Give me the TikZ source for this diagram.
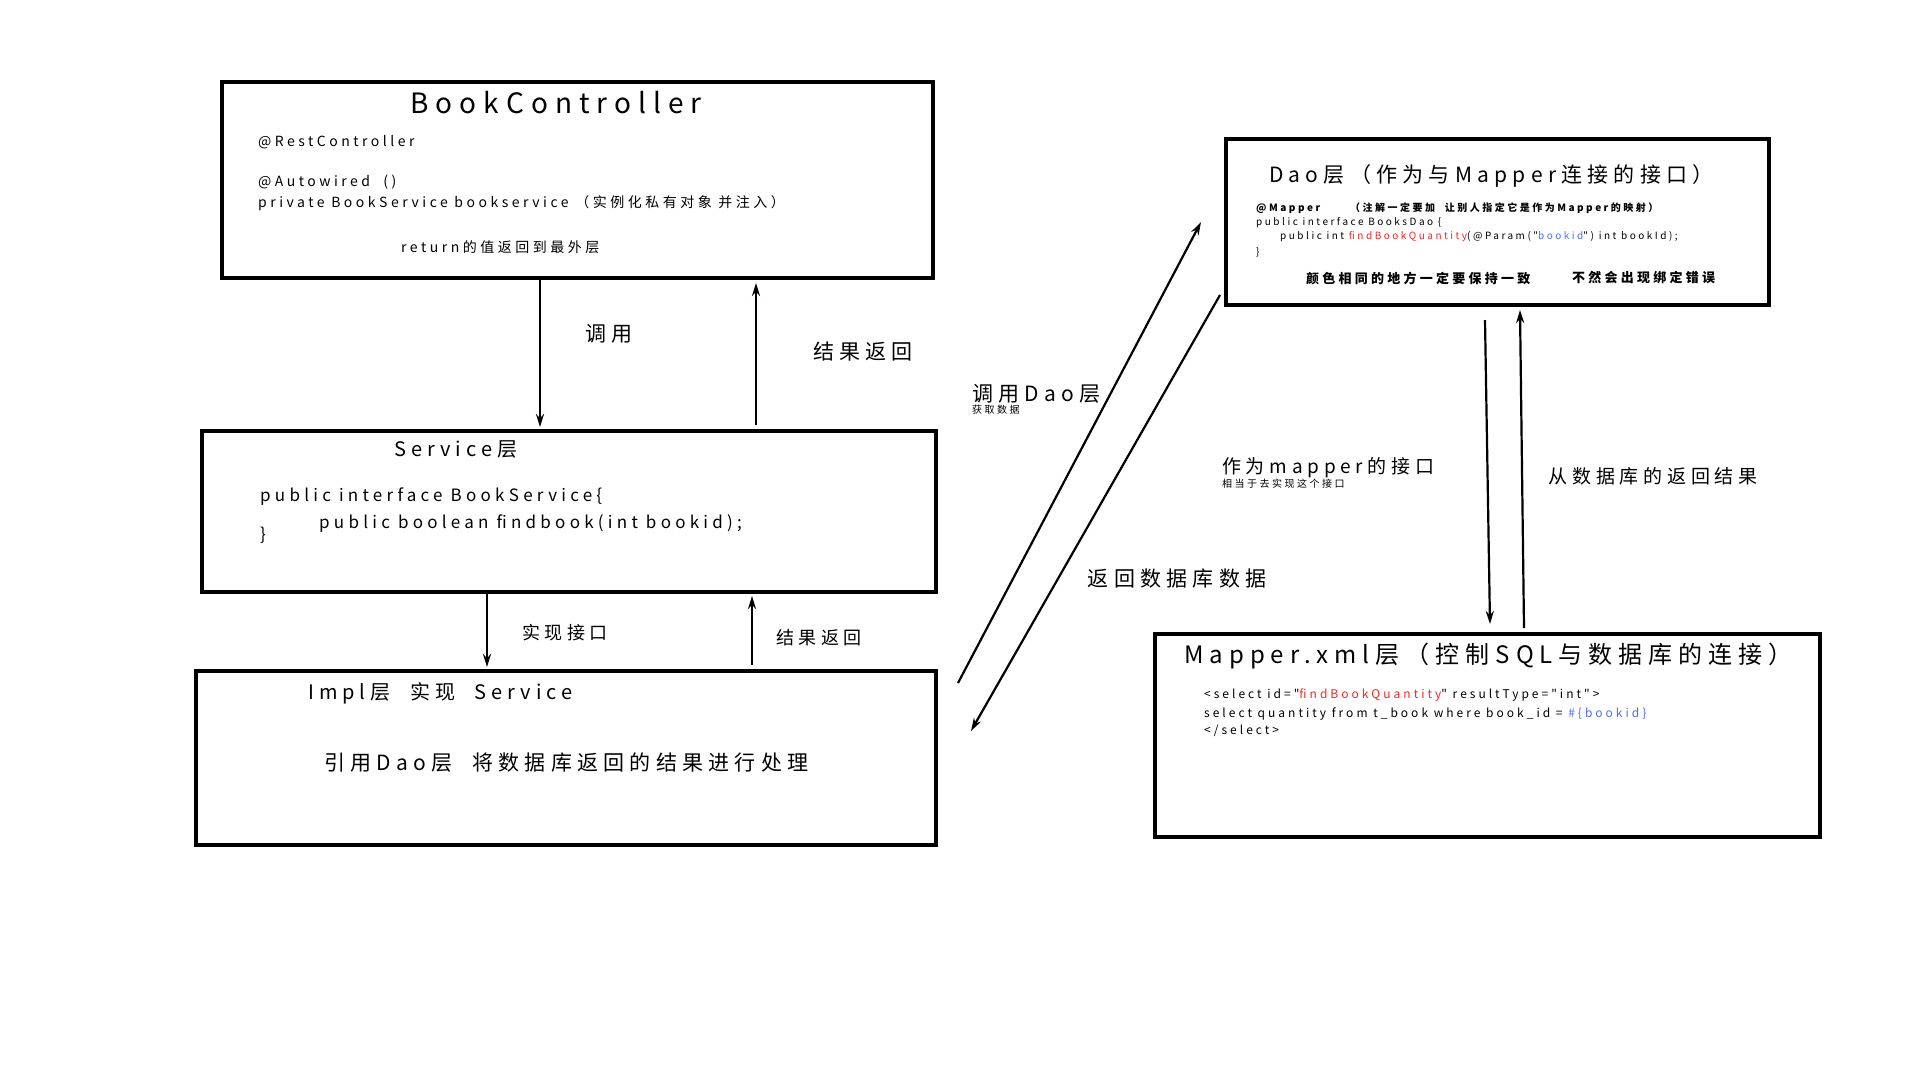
\documentclass[tikz,border=0pt]{standalone}
\usepackage{fontspec}
\setmainfont{Noto Sans CJK SC}
\newfontfamily\spfam[LetterSpace=25]{Noto Sans CJK SC}
\usetikzlibrary{arrows.meta}
\definecolor{cred}{RGB}{235,40,40}
\definecolor{cblue}{RGB}{80,110,240}
\begin{document}
\begin{tikzpicture}[x=1pt,y=-1pt,
  box/.style={draw,line width=3.5pt},
  txt/.style={anchor=west,inner sep=0pt,font=\spfam},
  arr/.style={line width=2.2pt,-{Stealth[length=13pt,width=8pt]}}]
\useasboundingbox (0,0) rectangle (1920,1080);
\draw[box] (222,82) rectangle (933,278);
\draw[box] (202,431) rectangle (936,592);
\draw[box] (196,671) rectangle (936,845);
\draw[box] (1226,139) rectangle (1769,305);
\draw[box] (1155,634) rectangle (1820,837);
% controller
\node (t1) at (556,103) {\spfam\fontsize{28}{30}\selectfont BookController};
\node[txt] (c1) at (258,142) {\fontsize{14}{16}\selectfont @RestController};
\node[txt] (c2) at (258,182) {\fontsize{14}{16}\selectfont @Autowired\ \ ()};
\node[txt] (c3) at (258,203) {\fontsize{14}{16}\selectfont private BookService bookservice （实例化私有对象 并注入）};
\node[txt] (c4) at (401,247) {\fontsize{14}{16}\selectfont return的值返回到最外层};
% service
\node[txt] (s0) at (394,449) {\fontsize{20}{22}\selectfont Service层};
\node[txt] (s1) at (260,497) {\fontsize{17}{19}\selectfont public interface BookService\{};
\node[txt] (s2) at (319,523) {\fontsize{17}{19}\selectfont public boolean findbook(int bookid);};
\node[txt] (s3) at (260,535) {\fontsize{17}{19}\selectfont \}};
% impl
\node[txt] (i0) at (308,693) {\fontsize{20}{22}\selectfont Impl层\quad 实现\ \ Service};
\node[txt] (i1) at (324,763) {\fontsize{21}{23}\selectfont 引用Dao层\ \ 将数据库返回的结果进行处理};
% dao
\node[txt] (d0) at (1269,176) {\fontsize{21}{23}\selectfont Dao层（作为与Mapper连接的接口）};
\node[txt] (d1) at (1256,208) {\fontsize{10}{12}\selectfont\bfseries @Mapper\qquad\quad （注解一定要加\ \ 让别人指定它是作为Mapper的映射）};
\node[txt] (d2) at (1256,223) {\fontsize{10}{12}\selectfont public interface BooksDao \{};
\node[txt] (d3) at (1280,237) {\fontsize{10}{12}\selectfont public int \textcolor{cred}{findBookQuantity}(@Param("\textcolor{cblue}{bookid}") int bookId);};
\node[txt] (d4) at (1256,252) {\fontsize{10}{12}\selectfont \}};
\node[txt] (d5) at (1306,278) {\fontsize{13}{15}\selectfont\bfseries 颜色相同的地方一定要保持一致};
\node[txt] (d6) at (1572,278) {\fontsize{13}{15}\selectfont\bfseries 不然会出现绑定错误};
% mapper
\node[txt] (m0) at (1184,656) {\fontsize{24}{26}\selectfont Mapper.xml层（控制SQL与数据库的连接）};
\node[txt] (m1) at (1204,695) {\fontsize{12}{14}\selectfont <select id="\textcolor{cred}{findBookQuantity}" resultType="int">};
\node[txt] (m2) at (1204,714) {\fontsize{12}{14}\selectfont select quantity from t\_book where book\_id = \textcolor{cblue}{\#\{bookid\}}};
\node[txt] (m3) at (1204,731) {\fontsize{12}{14}\selectfont </select>};
% arrows
\coordinate (a1s) at (540,280); \coordinate (a1e) at (540,427);
\coordinate (a2s) at (756,425); \coordinate (a2e) at (756,283);
\coordinate (a3s) at (487,593); \coordinate (a3e) at (487,667);
\coordinate (a4s) at (752,665); \coordinate (a4e) at (752,596);
\coordinate (a5s) at (958,683); \coordinate (a5e) at (1201,222);
\coordinate (a6s) at (1220,295); \coordinate (a6e) at (971,731);
\coordinate (a7s) at (1485,320); \coordinate (a7e) at (1490,624);
\coordinate (a8s) at (1524,628); \coordinate (a8e) at (1520,310);
\foreach \i in {1,...,8} \draw[arr] (a\i s) -- (a\i e);
\node (l1) at (609,334) {\spfam\fontsize{21}{23}\selectfont 调用};
\node (l2) at (863,352) {\spfam\fontsize{21}{23}\selectfont 结果返回};
\node[txt,align=left] (l3) at (972,399) {\fontsize{21}{21}\selectfont 调用Dao层\\获取数据};
\node[txt,align=left] (l4) at (1222,473) {\fontsize{19}{21}\selectfont 作为mapper的接口\\相当于去实现这个接口};
\node (l5) at (1653,476) {\spfam\fontsize{19}{21}\selectfont 从数据库的返回结果};
\node (l6) at (1177,579) {\spfam\fontsize{21}{23}\selectfont 返回数据库数据};
\node (l7) at (565,633) {\spfam\fontsize{18}{20}\selectfont 实现接口};
\node (l8) at (819,638) {\spfam\fontsize{18}{20}\selectfont 结果返回};
\end{tikzpicture}
\end{document}
